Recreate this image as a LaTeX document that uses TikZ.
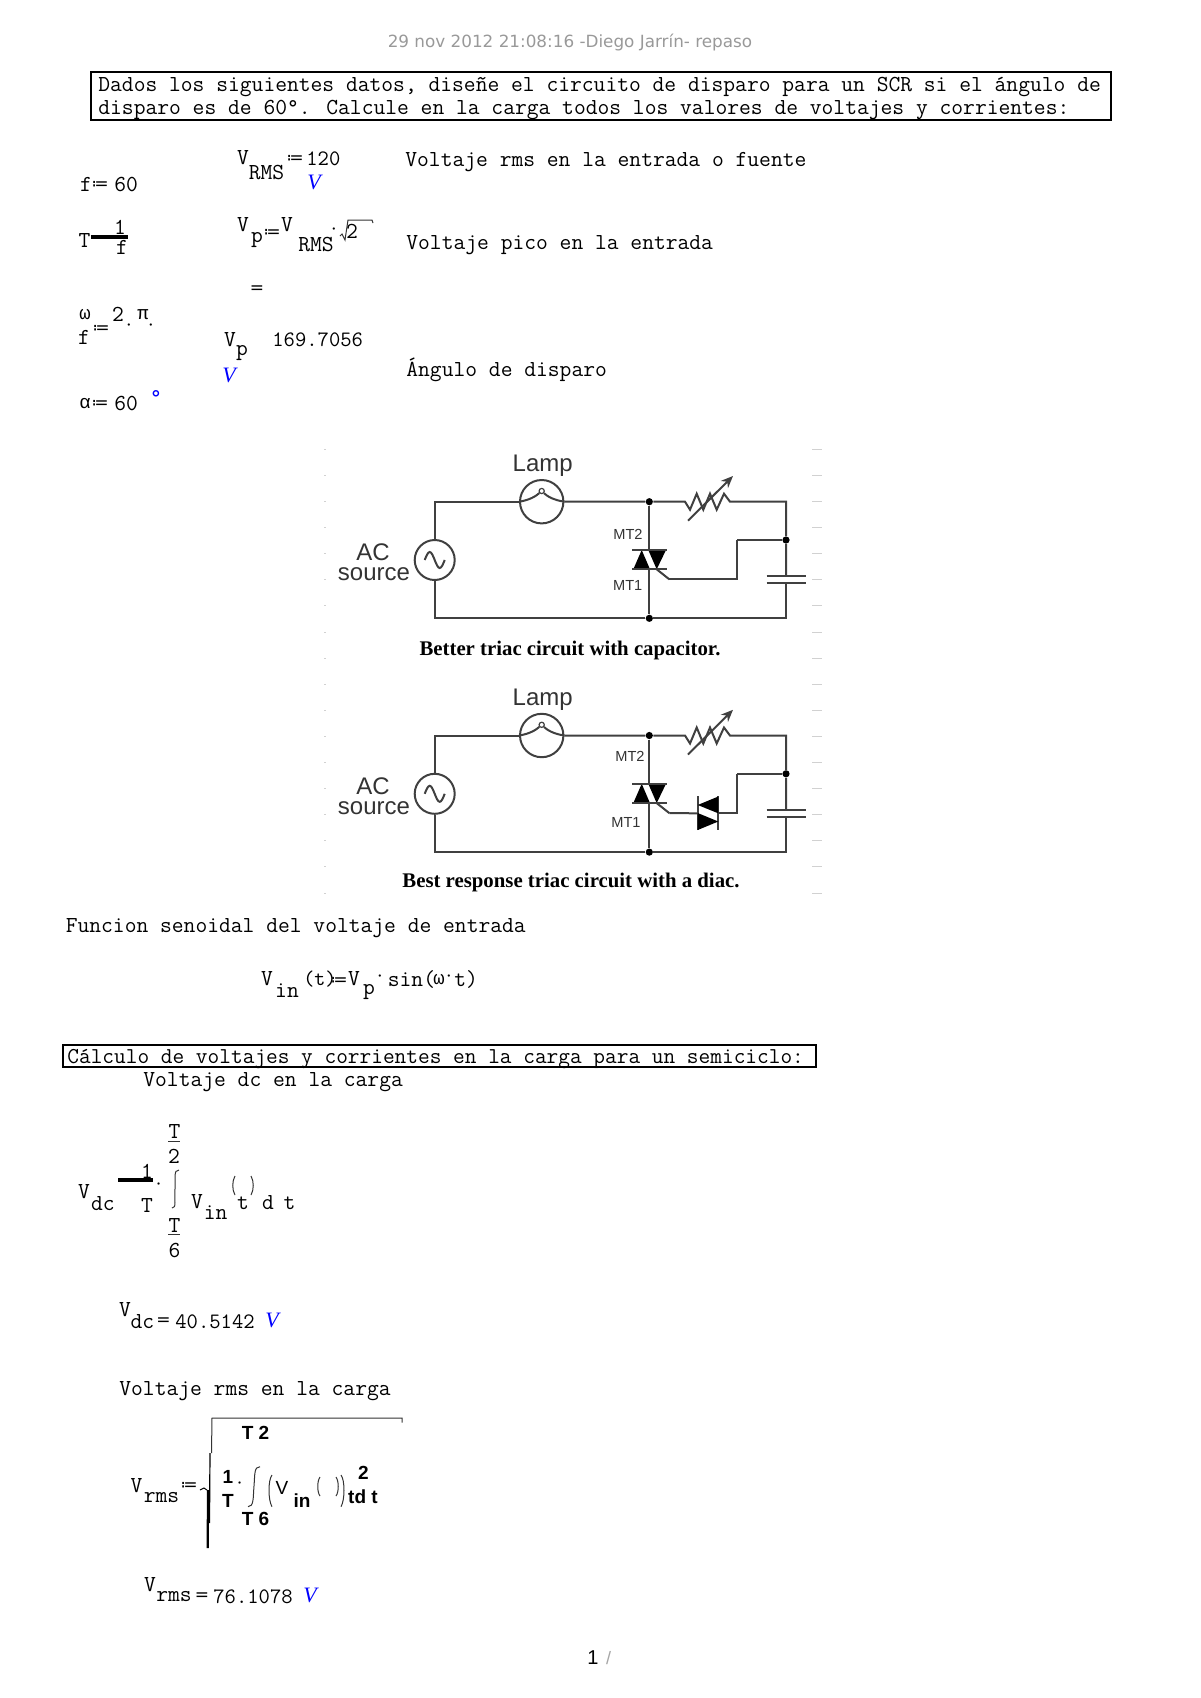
\documentclass[tikz,border=0pt]{standalone}
\usepackage{fontspec}
\usetikzlibrary{arrows.meta}
\newfontfamily\sansfam{Liberation Sans}
\newfontfamily\serfam{Liberation Serif}
\newfontfamily\gkfam{Liberation Mono}
\newfontfamily\symfam{DejaVu Sans}
\tikzset{
	every node/.style={inner sep=0pt, font=\ttfamily\fontsize{11.45}{11.6}\selectfont},
	note/.style={anchor=west, yshift=-1pt},
	item/.style={anchor=west},
	numval/.style={anchor=west, font=\ttfamily\fontsize{11}{12}\selectfont},
	assign/.style={font=\symfam\fontsize{8.5}{9}\selectfont},
	unitv/.style={text=blue, font=\serfam\itshape\fontsize{11}{12}\selectfont},
	greek/.style={font=\gkfam\fontsize{9.4}{11}\selectfont},
	boxed/.style={draw, line width=1pt},
	fracbar/.style={line width=1.6pt},
	wire/.style={line width=1pt, black!75},
	thinline/.style={line width=0.5pt, black!80},
	junction/.style={circle, fill=black, minimum size=3.6pt},
	lampbulb/.style={circle, draw, line width=1pt, black!75, minimum size=21.7pt},
	acsrc/.style={circle, draw, line width=1pt, black!75, minimum size=20pt},
	biglabel/.style={text=black!80, yshift=-1pt, font=\sansfam\fontsize{12}{12}\selectfont},
	mtlabel/.style={text=black!80, font=\sansfam\fontsize{7.3}{8}\selectfont},
	caption/.style={yshift=-1pt, font=\serfam\bfseries\fontsize{10.4}{12}\selectfont},
	boldsans/.style={font=\sansfam\bfseries\fontsize{9.5}{11}\selectfont},
	tick/.style={line width=0.5pt, black!18}
}
\begin{document}
\begin{tikzpicture}[x=0.5pt, y=-0.5pt]
\useasboundingbox (0,0) rectangle (1200,1698);

\node[text=black!40, font=\symfam\fontsize{8.4}{9}\selectfont] (head) at (570,42.7) {29 nov 2012 21:08:16 -Diego Jarrín- repaso};
\node[boxed, minimum width=510pt, minimum height=23.6pt] (given) at (601,96) {};
\node[item, align=left] (giventext) at (98,98.5)
	{Dados los siguientes datos, diseñe el circuito de disparo para un SCR si el ángulo de\\
	disparo es de 60°. Calcule en la carga todos los valores de voltajes y corrientes:};

% datos
\node[item] (fname) at (79.6,184) {f};
\node[assign] (fset) at (100,185) {≔};
\node[item] (fval) at (114,184) {60};
\node (vr) at (243,158) {V};
\node (vrsub) at (266.5,172) {RMS};
\node[assign] (vrset) at (295,159) {≔};
\node[numval] (vrval) at (306,159) {120};
\node[unitv] (vrunit) at (314,182) {V};
\node[note] (vrnote) at (405,160) {Voltaje rms en la entrada o fuente};

\node (tname) at (84.5,240) {T};
\coordinate (tbar) at (128,237);
\node (tnum) at (120,227) {1};
\node (tden) at (122,247) {f};
\draw[fracbar] (tname.east) ++(0,-3) -- (tbar);
\node (vp) at (243,225) {V};
\node (vpsub) at (257,240) {p};
\node[assign] (vpset) at (272,233) {≔};
\node (vq) at (287,225) {V};
\node (vqsub) at (316,244) {RMS};
\node (vqdot) at (334,230) {$\cdot$};
\node (root) at (352,231) {2};
\draw[thinline] (340,236) -- (342,234) -- (345,240) -- (348,220) -- (372,220) -- (373,223);
\node[note] (vpnote) at (406,243) {Voltaje pico en la entrada};

\node[assign] (eq) at (257,290) {=};
\node[greek] (w) at (85,315) {ω};
\node (two) at (118,314) {2};
\node[greek] (pi) at (143,315) {π};
\node (wf) at (84,337) {f};
\node[assign] (wset) at (101,329) {≔};
\node (wdot) at (129,326) {$\cdot$};
\node (wdotb) at (151,326) {$\cdot$};
\node (vpb) at (230,340) {V};
\node (vpbsub) at (242,353) {p};
\node[numval] (vpval) at (272,340) {169.7056};
\node[unitv] (vpunit) at (229,375) {V};
\node[note] (angnote) at (406,368) {Ángulo de disparo};
\node[greek] (alpha) at (85,404) {α};
\node[assign] (aset) at (100,404) {≔};
\node[item] (aval) at (114,403) {60};
\node[text=blue] (adeg) at (156,397) {°};

% los dos circuitos
\foreach \n/\dy in {a/0, b/233.8} {
	\begin{scope}[yshift=-0.5*\dy pt]
	\node[biglabel] (lamplabel\n) at (542.7,464) {Lamp};
	\node[lampbulb] (lamp\n) at (541.7,501.7) {};
	\node[circle, draw, line width=0.6pt, black!75, minimum size=2.6pt] (fil\n) at (541.7,491) {};
	\node[acsrc] (src\n) at (434.7,560) {};
	\node[biglabel] (ac\n) at (373,550.5) {AC};
	\node[biglabel] (srclabel\n) at (374,572) {source};
	\coordinate (tl\n) at (434.7,501.7);
	\coordinate (bl\n) at (434.7,618.3);
	\coordinate (rl\n) at (685,501.7);
	\coordinate (rr\n) at (730,501.7);
	\coordinate (tr\n) at (786,501.7);
	\coordinate (br\n) at (786,618.3);
	\node[junction] (jt\n) at (649.3,501.7) {};
	\node[junction] (jb\n) at (649.3,618.3) {};
	\node[junction] (jr\n) at (786,540) {};
	\coordinate (ttop\n) at (649.3,550);
	\coordinate (tbot\n) at (649.3,569.3);
	\coordinate (gate\n) at (656.7,569.3);
	\coordinate (gout\n) at (669.3,579.3);
	\coordinate (up\n) at (736.7,540);
	\coordinate (capt\n) at (786,575.7);
	\coordinate (capb\n) at (786,582.7);
	\draw[wire] (src\n.north) -- (tl\n) -- (lamp\n.west);
	\draw[wire] (src\n.south) -- (bl\n) -- (jb\n) -- (br\n) -- (capb\n);
	\draw[wire] (lamp\n.east) -- (jt\n) -- (rl\n)
		-- ++(5,8) -- ++(6.7,-16) -- ++(6.6,16) -- ++(6.7,-16) -- ++(6.7,16) -- ++(7.3,-16) -- (rr\n)
		-- (tr\n) -- (jr\n) -- (capt\n);
	\draw[wire] (jt\n) -- (ttop\n);
	\draw[wire] (tbot\n) -- (jb\n);
	\draw[wire] (gate\n) -- (gout\n);
	\draw[wire] (jr\n) -- (up\n);
	\draw[wire, -{Stealth[length=6pt,width=5pt]}] (688,520.7) -- (733,476);
	\draw[wire] (lamp\n.west) .. controls (530,500) and (536,496) .. (fil\n);
	\draw[wire] (fil\n) .. controls (547,496) and (553,500) .. (lamp\n.east);
	\draw[wire] (src\n.center) ++(-10,0) sin ++(5,-8) cos ++(5,8) sin ++(5,8) cos ++(5,-8);
	% triac
	\fill[black] (641.7,550) -- (633.3,569.3) -- (650,569.3) -- cycle;
	\fill[black] (648.3,550) -- (666,550) -- (656.7,569.3) -- cycle;
	\draw[wire] (632,550) -- (666.7,550);
	\draw[wire] (632,569.3) -- (666.7,569.3);
	% condensador
	\draw[wire] (766.7,575.7) -- (806,575.7);
	\draw[wire] (766.7,582.7) -- (806,582.7);
	\end{scope}
}

% primer circuito
\node[mtlabel] (mt2a) at (628,534) {MT2};
\node[mtlabel] (mt1a) at (627.7,585) {MT1};
\coordinate (cornera) at (736.7,579.3);
\draw[wire] (upa) -- (cornera) -- (gouta);
\node[caption] (capa) at (570,648) {Better triac circuit with capacitor.};

% segundo circuito, con el diac
\node[mtlabel] (mt2b) at (630,756) {MT2};
\node[mtlabel] (mt1b) at (626,822.7) {MT1};
\coordinate (cornerb) at (736.7,813.3);
\coordinate (dl) at (697.7,813.3);
\coordinate (dr) at (718.3,813.3);
\draw[wire] (upb) -- (cornerb) -- (dr);
\draw[wire] (dl) -- (goutb);
\draw[wire] (697.7,796) -- (697.7,830);
\draw[wire] (718.3,796) -- (718.3,830);
\fill[black] (718.3,796.5) -- (718.3,813.3) -- (697.7,805) -- cycle;
\fill[black] (697.7,813) -- (697.7,830) -- (718.3,821.5) -- cycle;
\node[caption] (capb) at (571,880.7) {Best response triac circuit with a diac.};

% marcas de la imagen
\foreach \i in {0,...,17} {
	\draw[tick] (812,449.3+26.1*\i) -- (822,449.3+26.1*\i);
	\draw[tick] (324,449.3+26.1*\i) -- (326,449.3+26.1*\i);
}

% funcion de entrada
\node[note] (fnnote) at (65.4,925.7) {Funcion senoidal del voltaje de entrada};
\node (vi) at (267,979) {V};
\node (visub) at (287,990.7) {in};
\node[item, font=\ttfamily\fontsize{10.5}{12}\selectfont] (vit) at (303,979) {(t)};
\node[assign] (viset) at (339,981) {≔};
\node (vip) at (354,979) {V};
\node (vipsub) at (369,991.7) {p};
\node (vidot) at (380,977) {$\cdot$};
\node[item] (visin) at (387.5,979) {sin(};
\node[greek] (viw) at (439,980) {ω};
\node (vidotb) at (449,977) {$\cdot$};
\node[item] (vitb) at (454,979) {t)};

\node[boxed, minimum width=376.5pt, minimum height=11pt] (calc) at (439.5,1055.5) {};
\node[item, font=\ttfamily\fontsize{11.35}{12}\selectfont] (calctext) at (67,1059)
	{Cálculo de voltajes y corrientes en la carga para un semiciclo:};
\node[note] (dcnote) at (143,1080) {Voltaje dc en la carga};

% voltaje dc
\node (vd) at (84,1192) {V};
\node (vdsub) at (103,1204) {dc};
\coordinate (dcbarl) at (118,1180);
\coordinate (dcbarr) at (152.6,1180);
\draw[fracbar] (dcbarl) -- (dcbarr);
\node (dcone) at (147,1171) {1};
\node (dct) at (147,1205) {T};
\node (dcdot) at (158.7,1185) {$\cdot$};
\draw[thinline] (172,1208) .. controls (177,1208) and (174,1200) .. (175,1189) .. controls (176,1178) and (173,1170) .. (179,1170);
\node (uptop) at (174.6,1131.7) {T};
\node (upbot) at (174,1156) {2};
\node (lotop) at (174.6,1225) {T};
\node (lobot) at (174.6,1250.7) {6};
\draw[thinline] (uptop.south west) ++(0,2) -- ++(12,0);
\draw[thinline] (lotop.south west) ++(0,2) -- ++(12,0);
\node (vdi) at (197,1202) {V};
\node (vdisub) at (215.6,1213) {in};
\draw[thinline] (235,1176) .. controls (232,1181) and (232,1190) .. (235,1195);
\draw[thinline] (251,1176) .. controls (254,1181) and (254,1190) .. (251,1195);
\node (dct2) at (243,1203) {t};
\node (dcd) at (268,1203) {d};
\node (dct3) at (289.5,1203) {t};

\node (vdv) at (125,1310) {V};
\node (vdvsub) at (142.3,1321.7) {dc};
\node[assign] (vdveq) at (163.5,1322) {=};
\node[numval] (vdvval) at (175,1322) {40.5142};
\node[unitv] (vdvunit) at (272,1320.7) {V};

% voltaje rms
\node[note] (rmsnote) at (119,1389) {Voltaje rms en la carga};
\node (vm) at (136.5,1486) {V};
\node (vmsub) at (161.5,1497.7) {rms};
\node[assign] (vmset) at (189,1486.7) {≔};
\draw[line width=0.5pt] (200,1490) -- (204,1488) -- (207,1490);
\draw[line width=1.1pt] (207.7,1548) -- (208,1490);
\draw[line width=0.6pt] (209.5,1523) -- (210,1453);
\draw[thinline] (211.5,1453) -- (212,1418) -- (402,1418) -- (402,1422.7);
\node[boldsans] (rmstop) at (255.5,1433) {T 2};
\node[boldsans] (rmsone) at (228,1476.7) {1};
\node[boldsans] (rmst) at (228,1500.7) {T};
\node (rmsdot) at (239.6,1484) {$\cdot$};
\draw[thinline] (248,1506.7) .. controls (254,1506.7) and (253,1498) .. (254,1486) .. controls (255,1474) and (254,1466.7) .. (260,1466.7);
\node[boldsans] (rmslow) at (255.5,1519) {T 6};
\draw[thinline] (272,1475) .. controls (268,1480) and (268,1500) .. (272,1506.7);
\node[font=\sansfam\fontsize{9.5}{11}\selectfont] (rmsv) at (282,1488) {V};
\node[boldsans] (rmsin) at (302,1500.7) {in};
\draw[thinline] (320,1477) .. controls (317,1481) and (317,1492) .. (320,1496);
\draw[thinline] (336,1477) .. controls (339,1481) and (339,1492) .. (336,1496);
\draw[thinline] (341,1475) .. controls (345,1480) and (345,1500) .. (341,1506.7);
\node[boldsans] (rmssq) at (363.5,1472.7) {2};
\node[boldsans] (rmstd) at (363,1496.7) {td t};

\node (vn) at (150,1585) {V};
\node (vnsub) at (174,1597) {rms};
\node[assign] (vneq) at (202,1597) {=};
\node[numval] (vnval) at (213,1597) {76.1078};
\node[unitv] (vnunit) at (310,1595) {V};

\node[font=\sansfam\fontsize{10}{11}\selectfont] (page) at (593,1658) {1};
\node[text=black!35, font=\sansfam\fontsize{9}{11}\selectfont] (pagesep) at (608.5,1658) {/};
\end{tikzpicture}
\end{document}
